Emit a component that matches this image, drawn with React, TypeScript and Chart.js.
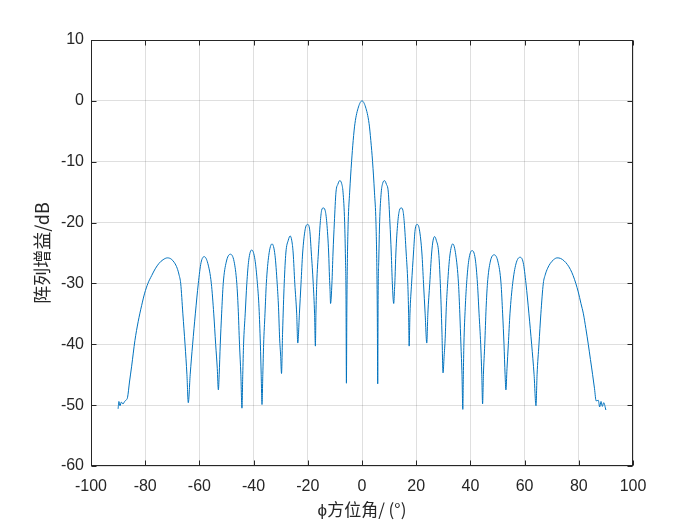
import React, { useEffect, useRef } from "react";
import { Chart, registerables } from "chart.js";

Chart.register(...registerables);

// Azimuth angle (degrees) and array gain (dB)
const angleDeg: number[] = [
  -90.0, -89.7, -89.3, -88.8, -88.2, -87.6, -86.9, -86.5, -85.8, -85.0, -83.8, -82.6, -81.3, -80.2, -79.0, -77.6, -76.3, -74.9, -73.4, -71.8, -70.4, -69.2, -68.2, -67.5, -66.9, -66.1, -65.3, -64.6, -64.1,
  -63.4, -62.5, -61.5, -60.4, -59.4, -58.2, -56.9, -55.6, -54.7, -54.0, -53.4, -53.0,
  -52.7, -52.3, -51.8, -51.2, -50.1, -48.6, -47.2, -46.2, -45.7, -45.2, -44.7, -44.3,
  -44.0, -43.7, -43.1, -42.5, -41.8, -40.7, -39.5, -38.6, -38.0, -37.5, -37.2, -36.9,
  -36.6, -36.3, -35.8, -35.3, -34.4, -33.2, -32.1, -31.3, -30.8, -30.4, -30.0, -29.7,
  -29.3, -28.7, -28.1, -27.2, -26.5, -25.9, -25.4, -24.8, -24.1, -23.7,
  -23.1, -22.5, -21.9, -21.0, -20.1, -19.3, -18.7, -18.0, -17.5, -17.2,
  -17.0, -16.7, -16.1, -15.4, -14.9, -14.3, -13.6, -13.0, -12.3, -12.0, -11.8, -11.6,
  -11.1, -10.7, -10.2, -9.6, -8.9, -8.2, -7.5, -7.0, -6.4, -6.1, -5.9, -5.75,
  -5.6, -5.45, -5.1, -4.55, -3.85, -3.25, -2.6, -1.3, 0, 1.3, 2.6, 3.25, 3.9, 4.6, 5.15, 5.5, 5.65, 5.8,
  5.95, 6.2, 6.5, 7.1, 7.6, 8.3, 9.0, 9.7, 10.3, 10.8, 11.2, 11.7,
  12.0, 12.2, 12.5, 13.2, 13.8, 14.5, 15.1, 15.6, 16.3, 16.9, 17.2, 17.4,
  17.7, 18.3, 19.0, 19.6, 20.4, 21.2, 22.1, 22.7, 23.3, 23.9,
  24.3, 25.0, 25.7, 26.2, 26.8, 27.4, 28.3, 28.9, 29.5, 29.9,
  30.3, 30.7, 31.1, 31.6, 32.4, 33.5, 34.6, 35.6, 36.1, 36.5, 36.9, 37.2,
  37.4, 37.6, 38.1, 38.6, 39.4, 40.6, 41.8, 42.6, 43.2, 43.8, 44.2, 44.5,
  44.8, 45.3, 45.8, 46.3, 47.3, 48.8, 50.2, 51.3, 51.9, 52.4, 52.8, 53.1,
  53.5, 54.0, 54.6, 55.6, 56.8, 58.3, 59.5, 60.5, 61.6, 62.6, 63.5, 64.2,
  64.6, 65.3, 66.0, 66.9, 67.6, 68.5, 69.5, 70.7, 72.0, 73.3, 74.6, 75.8, 76.9, 77.9, 78.9, 79.8, 80.8, 81.7, 82.6, 83.5, 84.3, 85.1, 85.8, 86.4,
  87.2, 87.7, 88.2, 88.7, 89.2, 90.0,
];

const gainDb: number[] = [
  -50.6, -49.4, -50.1, -49.5, -49.8, -49.4, -49.1, -48.7, -46.2, -43.6, -39.4, -36.3, -33.6, -31.6, -30.0, -28.7, -27.6, -26.7, -26.1, -25.8, -26.0, -26.6, -27.5, -28.6, -30, -35, -40, -45, -49.6,
  -45, -40, -35, -30, -26.6, -25.6, -26.7, -30, -35, -40, -44, -47.5,
  -45, -40, -35, -30, -26.5, -25.2, -26.4, -30, -34, -40, -45, -50.5,
  -45, -40, -35, -30, -26.2, -24.5, -26.1, -30, -34, -40, -45, -49.9,
  -45, -40, -35, -30, -25.4, -23.5, -25.4, -30, -34, -39, -42, -44.8,
  -38, -30, -25, -22.9, -22.2, -23, -25, -30, -35, -39.8,
  -35, -30, -25, -21.2, -20.3, -21.2, -25, -30, -35, -40.3,
  -35, -30, -25, -20, -18, -17.6, -18, -20, -25, -29, -31, -33.3,
  -30, -25, -20, -15, -13.7, -13.1, -13.6, -15, -20, -26, -32, -46.4,
  -35, -28, -20, -15, -10, -6.5, -3.7, -1.0, 0, -1.0, -3.7, -6.5, -10, -15, -20, -28, -35, -46.5,
  -32, -26, -20, -15, -13.6, -13.1, -13.7, -15, -20, -25, -30, -33.3,
  -31, -29, -25, -20, -18, -17.6, -18, -20, -25, -30, -35, -40.3,
  -35, -30, -25, -21.2, -20.3, -21.2, -25, -30, -35, -39.8,
  -35, -30, -25, -23, -22.3, -22.9, -25, -30, -38, -44.7,
  -42, -39, -34, -30, -25.5, -23.5, -25.3, -30, -35, -40, -45, -50.7,
  -45, -40, -34, -30, -26.2, -24.6, -26, -30, -35, -40, -45, -49.8,
  -45, -40, -34, -30, -26.5, -25.3, -26.5, -30, -35, -40, -45, -47.5,
  -44, -40, -35, -30, -26.8, -25.7, -26.6, -30, -35, -40, -45, -50.1,
  -45, -40, -35, -30, -28.6, -27.5, -26.7, -26.1, -25.8, -25.9, -26.3, -26.9, -27.7, -28.7, -30, -31.4, -33.3, -35, -37.4, -40, -42.5, -45, -47.3, -49.3,
  -49.2, -50.3, -49.4, -50.2, -49.6, -50.8,
];

const xTicks: number[] = [-100, -80, -60, -40, -20, 0, 20, 40, 60, 80, 100];
const yTicks: number[] = [10, 0, -10, -20, -30, -40, -50, -60];

const xTitle = "ϕ方位角/ (°)";
const yTitle = "阵列增益/dB";

const AXIS_COLOR = "#262626";
const GRID_COLOR = "rgba(38,38,38,0.15)";
const LINE_COLOR = "#0072BD";

const boxPlugin = {
  id: "matlabBox",
  afterDraw(chart: any) {
    const { ctx, chartArea } = chart;
    const { left, right, top, bottom } = chartArea;
    const xs = chart.scales.x;
    const ys = chart.scales.y;
    ctx.save();
    ctx.strokeStyle = AXIS_COLOR;
    ctx.lineWidth = 1;
    const L = Math.round(left) + 0.5;
    const R = Math.round(right) - 0.5;
    const T = Math.round(top) + 0.5;
    const B = Math.round(bottom) - 0.5;
    ctx.strokeRect(L, T, R - L, B - T);
    const tl = 5;
    ctx.beginPath();
    xTicks.forEach((v) => {
      const px = Math.round(xs.getPixelForValue(v)) + 0.5;
      ctx.moveTo(px, B);
      ctx.lineTo(px, B - tl);
      ctx.moveTo(px, T);
      ctx.lineTo(px, T + tl);
    });
    yTicks.forEach((v) => {
      const py = Math.round(ys.getPixelForValue(v)) + 0.5;
      ctx.moveTo(L, py);
      ctx.lineTo(L + tl, py);
      ctx.moveTo(R, py);
      ctx.lineTo(R - tl, py);
    });
    ctx.stroke();
    ctx.restore();
  },
};

export default function App() {
  const canvasRef = useRef<HTMLCanvasElement | null>(null);

  useEffect(() => {
    if (!canvasRef.current) return;
    const points = angleDeg.map((x, i) => ({ x, y: gainDb[i] }));
    const tickFont = { family: '"Liberation Sans", Arial, sans-serif', size: 16 };
    const chart = new Chart(canvasRef.current, {
      type: "line",
      data: {
        datasets: [
          {
            data: points,
            borderColor: LINE_COLOR,
            borderWidth: 1,
            pointRadius: 0,
            fill: false,
            cubicInterpolationMode: "monotone",
          },
        ],
      },
      options: {
        animation: false,
        responsive: false,
        devicePixelRatio: 1,
        layout: { padding: { left: 0, top: 40, right: 67, bottom: 0 } },
        plugins: { legend: { display: false }, tooltip: { enabled: false } },
        scales: {
          x: {
            type: "linear",
            min: -100,
            max: 100,
            afterBuildTicks: (scale: any) => {
              scale.ticks = xTicks.map((v) => ({ value: v }));
            },
            afterFit: (scale: any) => {
              scale.height = 59;
            },
            grid: { color: GRID_COLOR, drawTicks: false },
            border: { display: false },
            ticks: { color: AXIS_COLOR, font: tickFont, padding: 11, maxRotation: 0 },
            title: {
              display: true,
              text: xTitle,
              color: AXIS_COLOR,
              font: { family: '"Noto Sans CJK SC", sans-serif', size: 17 },
              padding: { top: 0, bottom: 5 },
            },
          },
          y: {
            type: "linear",
            min: -60,
            max: 10,
            afterBuildTicks: (scale: any) => {
              scale.ticks = yTicks.slice().reverse().map((v) => ({ value: v }));
            },
            afterFit: (scale: any) => {
              scale.width = 91;
            },
            grid: { color: GRID_COLOR, drawTicks: false },
            border: { display: false },
            ticks: { color: AXIS_COLOR, font: tickFont, padding: 7 },
            title: {
              display: true,
              text: yTitle,
              color: AXIS_COLOR,
              font: { family: '"Noto Sans CJK SC", sans-serif', size: 18 },
              padding: { top: 31, bottom: 0 },
            },
          },
        },
      },
      plugins: [boxPlugin],
    } as any);
    return () => chart.destroy();
  }, []);

  return (
    <div style={{ position: "fixed", left: 0, top: 0, width: 700, height: 525, background: "#fff" }}>
      <canvas ref={canvasRef} width={700} height={525} style={{ display: "block" }} />
    </div>
  );
}
